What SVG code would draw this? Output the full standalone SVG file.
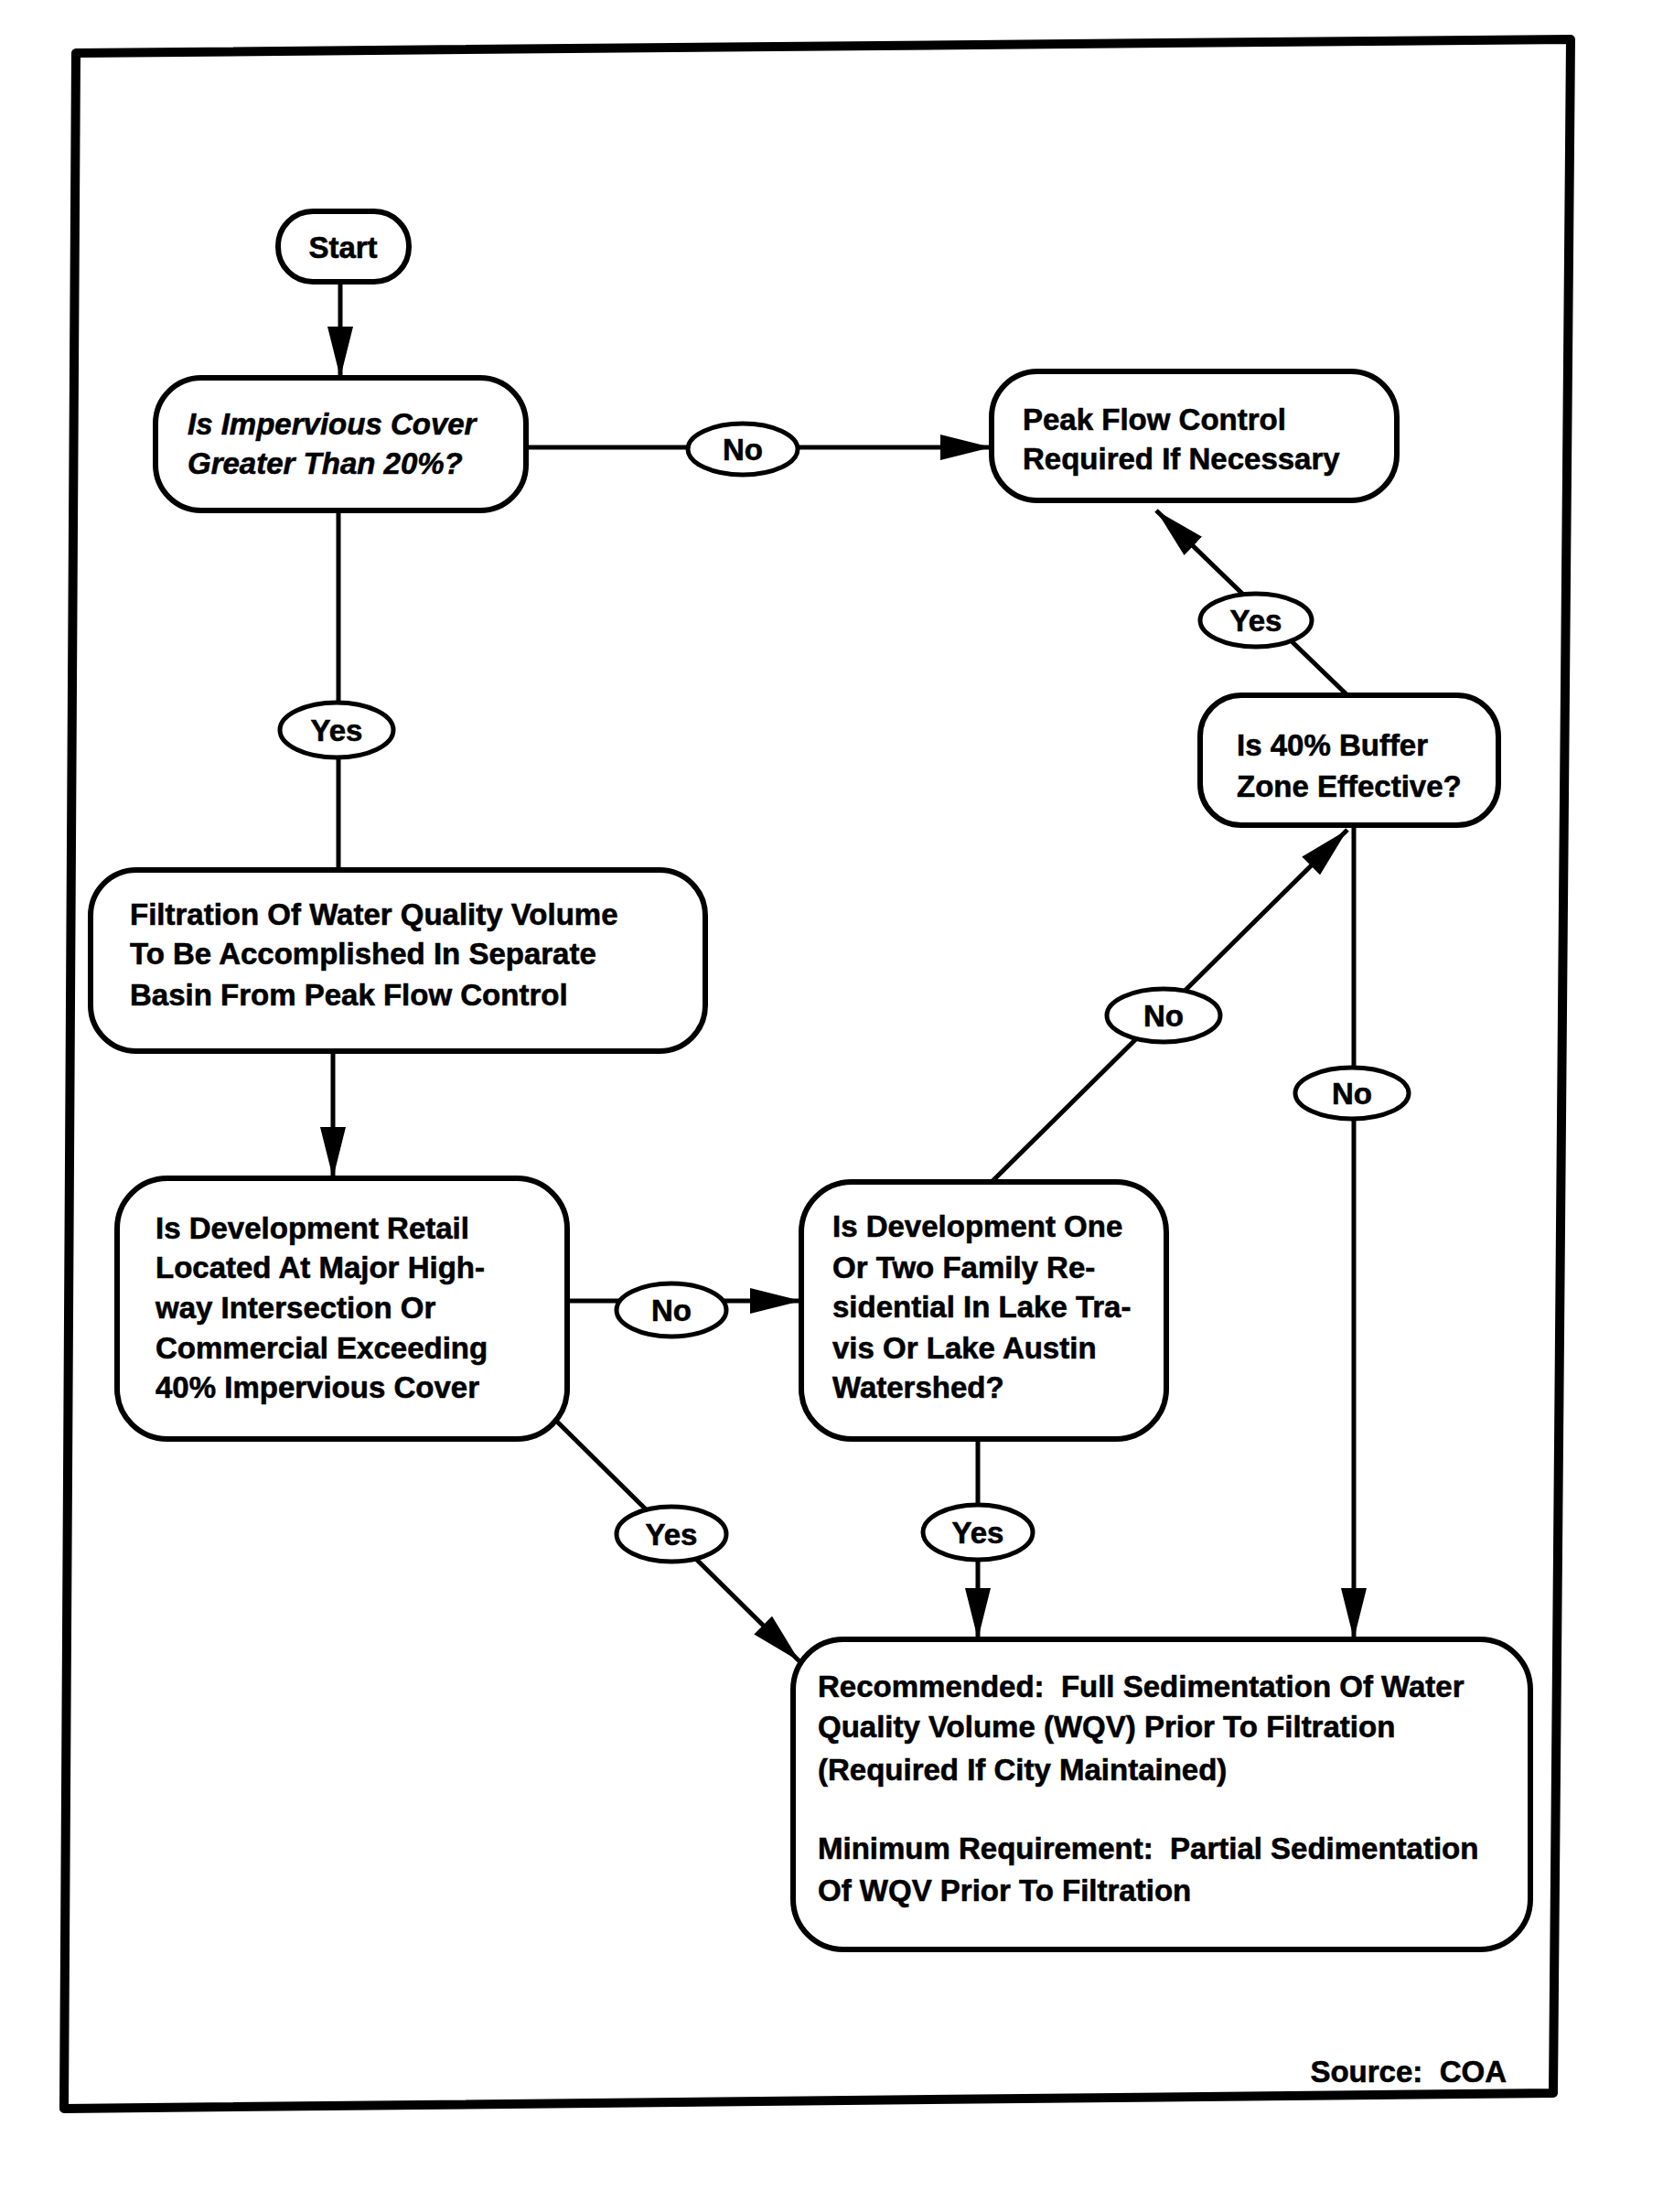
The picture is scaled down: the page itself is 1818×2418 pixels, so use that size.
<svg xmlns="http://www.w3.org/2000/svg" width="1818" height="2418" viewBox="0 0 1818 2418">
<style>
.box{fill:#fff;stroke:#000;stroke-width:6}
.lbl{fill:#fff;stroke:#000;stroke-width:5}
.con{fill:none;stroke:#000;stroke-width:5}
.t{font-family:"Liberation Sans",Arial,sans-serif;font-weight:bold;font-size:33px;fill:#000;stroke:#000;stroke-width:0.6}
.it{font-style:italic}
.c{text-anchor:middle}
</style>
<defs>
<marker id="arr" viewBox="0 0 56 28" refX="56" refY="14" markerWidth="56" markerHeight="28" markerUnits="userSpaceOnUse" orient="auto">
<path d="M0,0 L56,14 L0,28 Z" fill="#000"/>
</marker>
</defs>
<rect width="1818" height="2418" fill="#fff"/>
<polygon points="83,58 1717,43 1698,2288 70,2305" fill="none" stroke="#000" stroke-width="10" stroke-linejoin="round"/>

<g id="connectors">
<line class="con" x1="372" y1="308" x2="372" y2="413" marker-end="url(#arr)"/>
<line class="con" x1="575" y1="489" x2="1084" y2="489" marker-end="url(#arr)"/>
<line class="con" x1="370" y1="558" x2="370" y2="951"/>
<line class="con" x1="364" y1="1149" x2="364" y2="1288" marker-end="url(#arr)"/>
<line class="con" x1="620" y1="1422" x2="876" y2="1422" marker-end="url(#arr)"/>
<line class="con" x1="1084" y1="1292" x2="1473" y2="907" marker-end="url(#arr)"/>
<line class="con" x1="1473" y1="760" x2="1264" y2="558" marker-end="url(#arr)"/>
<line class="con" x1="1480" y1="902" x2="1480" y2="1792" marker-end="url(#arr)"/>
<line class="con" x1="609" y1="1554" x2="874" y2="1816" marker-end="url(#arr)"/>
<line class="con" x1="1069" y1="1573" x2="1069" y2="1792" marker-end="url(#arr)"/>
<g id="label-no1"><ellipse class="lbl" cx="812" cy="491" rx="60" ry="28"/><text class="t c" x="812" y="503">No</text></g>
<g id="label-yes1"><ellipse class="lbl" cx="368" cy="798" rx="62" ry="30"/><text class="t c" x="368" y="810">Yes</text></g>
<g id="label-no2"><ellipse class="lbl" cx="734" cy="1432" rx="60" ry="29"/><text class="t c" x="734" y="1444">No</text></g>
<g id="label-no3"><ellipse class="lbl" cx="1272" cy="1110" rx="62" ry="29"/><text class="t c" x="1272" y="1122">No</text></g>
<g id="label-yes2"><ellipse class="lbl" cx="1373" cy="678" rx="61" ry="29"/><text class="t c" x="1373" y="690">Yes</text></g>
<g id="label-no4"><ellipse class="lbl" cx="1478" cy="1195" rx="62" ry="28"/><text class="t c" x="1478" y="1207">No</text></g>
<g id="label-yes3"><ellipse class="lbl" cx="734" cy="1677" rx="60" ry="30"/><text class="t c" x="734" y="1689">Yes</text></g>
<g id="label-yes4"><ellipse class="lbl" cx="1069" cy="1675" rx="60" ry="30"/><text class="t c" x="1069" y="1687">Yes</text></g>
</g>

<g id="start">
<rect class="box" x="304" y="231" width="143" height="77" rx="38"/>
<text class="t c" x="375" y="282">Start</text>
</g>

<g id="impervious">
<rect class="box" x="170" y="413" width="405" height="145" rx="50"/>
<text class="t it" x="205" y="475">Is Impervious Cover</text>
<text class="t it" x="205" y="518">Greater Than 20%?</text>
</g>

<g id="peakflow">
<rect class="box" x="1084" y="406" width="443" height="141" rx="50"/>
<text class="t" x="1118" y="470">Peak Flow Control</text>
<text class="t" x="1118" y="513">Required If Necessary</text>
</g>

<g id="filtration">
<rect class="box" x="99" y="951" width="672" height="198" rx="50"/>
<text class="t" x="142" y="1011">Filtration Of Water Quality Volume</text>
<text class="t" x="142" y="1054">To Be Accomplished In Separate</text>
<text class="t" x="142" y="1099">Basin From Peak Flow Control</text>
</g>

<g id="retail">
<rect class="box" x="128" y="1288" width="492" height="285" rx="55"/>
<text class="t" x="170" y="1354">Is Development Retail</text>
<text class="t" x="170" y="1397">Located At Major High-</text>
<text class="t" x="170" y="1441">way Intersection Or</text>
<text class="t" x="170" y="1485">Commercial Exceeding</text>
<text class="t" x="170" y="1528">40% Impervious Cover</text>
</g>

<g id="residential">
<rect class="box" x="876" y="1292" width="399" height="281" rx="55"/>
<text class="t" x="910" y="1352">Is Development One</text>
<text class="t" x="910" y="1397">Or Two Family Re-</text>
<text class="t" x="910" y="1440">sidential In Lake Tra-</text>
<text class="t" x="910" y="1485">vis Or Lake Austin</text>
<text class="t" x="910" y="1528">Watershed?</text>
</g>

<g id="buffer">
<rect class="box" x="1312" y="760" width="326" height="142" rx="45"/>
<text class="t" x="1352" y="826">Is 40% Buffer</text>
<text class="t" x="1352" y="871">Zone Effective?</text>
</g>

<g id="recommended">
<rect class="box" x="867" y="1792" width="806" height="339" rx="55"/>
<text class="t" x="894" y="1855">Recommended:&#160; Full Sedimentation Of Water</text>
<text class="t" x="894" y="1899">Quality Volume (WQV) Prior To Filtration</text>
<text class="t" x="894" y="1946">(Required If City Maintained)</text>
<text class="t" x="894" y="2032">Minimum Requirement:&#160; Partial Sedimentation</text>
<text class="t" x="894" y="2078">Of WQV Prior To Filtration</text>
</g>

<g id="source">
<text class="t" x="1647" y="2276" text-anchor="end">Source:&#160; COA</text>
</g>
</svg>
